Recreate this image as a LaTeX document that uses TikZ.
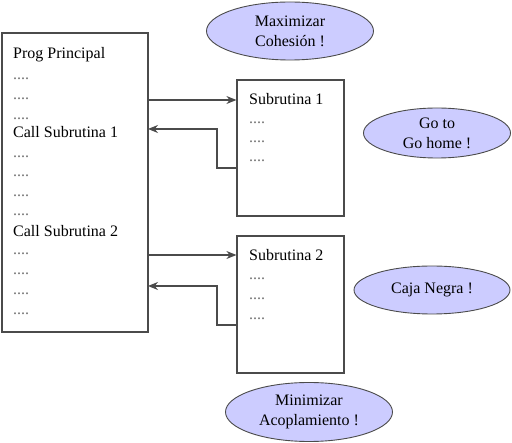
\documentclass[tikz,border=0pt]{standalone}
\usepackage{fontspec}
\setmainfont{Liberation Serif}
\usetikzlibrary{shapes.geometric, arrows.meta, positioning, calc}
\definecolor{ovalfill}{RGB}{204, 204, 255}
\definecolor{linegray}{RGB}{75, 75, 75}

\begin{document}
\begin{tikzpicture}[x=1pt, y=-1pt,
  codebox/.style={draw=linegray, line width=1.2pt, fill=white, inner sep=0pt},
  codeline/.style={anchor=base west, inner sep=0pt, font=\fontsize{16}{18}\selectfont},
  dotline/.style={codeline, text=black!55},
  oval/.style={ellipse, draw=linegray, fill=ovalfill, line width=0.9pt, align=center,
    inner sep=0pt, font=\fontsize{16}{20}\selectfont},
  flow/.style={draw=linegray, line width=1.2pt, -{Stealth[length=10pt, width=8pt]}}]
  \useasboundingbox (0,0) rectangle (512,443);

  % program boxes
  \node[codebox, minimum width=146pt, minimum height=299pt] (main) at (75,182.5) {};
  \node[codebox, minimum width=107pt, minimum height=136pt] (sub1) at (290.5,148) {};
  \node[codebox, minimum width=107pt, minimum height=137pt] (sub2) at (290.5,304.5) {};

  % main program text
  \node[codeline] (prog) at (13,59) {Prog Principal};
  \foreach \y [count=\i] in {80,100,119.5} \node[dotline] (pa\i) at (13,\y) {....};
  \node[codeline] (call1) at (13,138) {Call Subrutina 1};
  \foreach \y [count=\i] in {158,177,197,216} \node[dotline] (pb\i) at (13,\y) {....};
  \node[codeline] (call2) at (13,237) {Call Subrutina 2};
  \foreach \y [count=\i] in {255,275,295,315} \node[dotline] (pc\i) at (13,\y) {....};

  % subroutine text
  \node[codeline] (s1title) at (249,105) {Subrutina 1};
  \foreach \y [count=\i] in {123.5,143,162} \node[dotline] (sa\i) at (249,\y) {....};
  \node[codeline] (s2title) at (249,261) {Subrutina 2};
  \foreach \y [count=\i] in {280,300,320} \node[dotline] (sb\i) at (249,\y) {....};

  % calls and returns
  \coordinate (go1) at (148,100);
  \coordinate (ret1) at (237,168);
  \coordinate (back1) at (148,129);
  \draw[flow] (go1) -- (go1 -| sub1.west);
  \draw[flow] (ret1) -- ++(-20,0) |- (back1);

  \coordinate (go2) at (148,255);
  \coordinate (ret2) at (237,325);
  \coordinate (back2) at (148,286);
  \draw[flow] (go2) -- (go2 -| sub2.west);
  \draw[flow] (ret2) -- ++(-20,0) |- (back2);

  % design notes
  \node[oval, minimum width=167pt, minimum height=58pt] (cohesion) at (290,31) {Maximizar\\Cohesión !};
  \node[oval, minimum width=147pt, minimum height=50pt] (gohome) at (437,133) {Go to\\Go home !};
  \node[oval, minimum width=156pt, minimum height=48pt] (blackbox) at (432,290) {Caja Negra !};
  \node[oval, minimum width=167pt, minimum height=59pt] (coupling) at (309,412) {Minimizar\\Acoplamiento !};
\end{tikzpicture}
\end{document}
